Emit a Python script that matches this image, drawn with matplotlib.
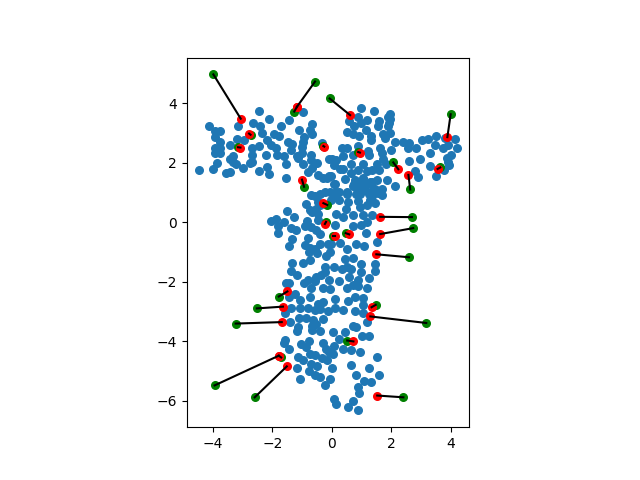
#!/usr/bin/env python3
import matplotlib
matplotlib.use('Agg')
import matplotlib.pyplot as plt

# blue cloud
blue_points = [
    (-2.45, 3.75), (-2.12, 3.48), (-1.44, 3.45), (-0.95, 3.69), (-2.66, 3.32), (-2.41, 3.24),
    (-3.16, 3.22), (-4.14, 3.22), (-1.71, 3.25), (-0.66, 3.29), (-1.10, 3.11), (-0.72, 3.09),
    (-0.66, 2.95), (-3.91, 3.06), (-3.77, 3.05), (-2.35, 3.01), (-1.94, 2.95), (-1.76, 2.91),
    (-3.93, 2.87), (-0.93, 2.88), (-3.77, 2.71), (-3.20, 2.79), (-2.96, 2.78), (-2.18, 2.76),
    (-0.96, 2.71), (-1.48, 2.70), (-1.33, 2.64), (-0.33, 2.66), (-3.43, 2.58), (-2.44, 2.55),
    (-2.67, 2.49), (-2.05, 2.58), (-1.86, 2.51), (-3.93, 2.49), (-3.75, 2.51), (-1.37, 2.42),
    (-0.99, 2.52), (-1.01, 2.34), (-3.92, 2.32), (-3.77, 2.34), (-3.32, 2.24), (-2.67, 2.26),
    (-2.22, 2.25), (-1.84, 2.26), (-1.59, 2.22), (-0.70, 2.27), (-3.43, 2.14), (-2.69, 2.04),
    (-1.13, 2.15), (-1.18, 2.23), (-0.08, 2.14), (-3.87, 1.99), (-3.32, 2.02), (-3.22, 1.95),
    (-2.76, 1.99), (-1.54, 1.97), (-0.96, 1.97), (-0.69, 2.08), (-0.49, 1.99), (-3.00, 1.83),
    (-3.98, 1.79), (-4.45, 1.77), (-2.18, 1.85), (-0.66, 1.83), (-2.45, 1.73), (-2.10, 1.62),
    (-0.80, 1.69), (-3.57, 1.64), (-3.43, 1.68), (-1.54, 1.50), (-0.46, 1.59), (-0.08, 1.56),
    (-0.30, 1.50), (-0.17, 1.48),
    (0.99, 3.85), (1.43, 3.75), (1.96, 3.65), (1.90, 3.54), (1.95, 3.48), (0.87, 3.54),
    (0.59, 3.39), (1.19, 3.43), (1.60, 3.39), (0.97, 3.32), (0.74, 3.23), (1.94, 3.32),
    (1.90, 3.23), (1.54, 3.23), (1.14, 3.11), (0.53, 3.03), (0.72, 2.98), (0.92, 2.89),
    (1.31, 2.90), (1.31, 2.76), (1.71, 2.96), (1.95, 3.01), (1.78, 2.82), (2.14, 2.68),
    (2.41, 2.69), (2.61, 2.67), (2.55, 2.49), (2.83, 2.48), (3.05, 2.78), (3.25, 2.81),
    (3.50, 2.91), (3.80, 2.82), (4.14, 2.81), (3.46, 2.58), (3.73, 2.50), (3.90, 2.59),
    (4.20, 2.51), (3.30, 2.31), (2.00, 2.42), (1.64, 2.48), (0.34, 2.48), (0.50, 2.51),
    (0.89, 2.55), (1.23, 2.39), (1.26, 2.27), (1.68, 2.31), (0.72, 2.25), (0.38, 2.22),
    (1.73, 2.14), (1.82, 1.97), (2.98, 2.14), (2.61, 2.07), (4.02, 2.25), (3.87, 2.16),
    (3.92, 2.03), (3.29, 1.90), (3.93, 1.92), (3.78, 1.75), (3.52, 1.56), (2.80, 1.71),
    (2.89, 1.52), (0.00, 2.11), (0.16, 2.08), (0.66, 1.94), (1.06, 1.97), (1.51, 1.97),
    (1.60, 1.75), (1.34, 1.77), (0.27, 1.80), (0.38, 1.78), (0.07, 1.92), (1.17, 1.71),
    (0.89, 1.75), (0.66, 1.64), (-0.01, 1.55), (0.46, 1.45), (1.06, 1.47), (0.78, 1.41),
    (1.53, 1.43), (1.87, 1.43), (1.30, 1.36), (0.97, 1.28), (0.72, 1.22), (0.07, 1.27),
    (2.14, 1.23), (1.68, 1.11), (1.40, 1.13), (1.11, 1.08), (0.83, 1.17), (0.50, 1.00),
    (0.16, 1.02), (1.57, 0.99), (1.26, 0.94), (0.95, 0.96),
    (0.10, 1.30), (0.75, 1.30), (0.95, 1.24), (1.17, 1.30), (1.34, 1.36),
    (-0.57, 0.87), (-0.41, 0.96), (-0.24, 1.02), (-0.07, 1.02), (0.24, 1.02), (0.50, 0.94),
    (0.10, 0.87), (-0.69, 0.91), (-0.46, 0.68), (-0.01, 0.74), (0.25, 0.74), (0.55, 0.68),
    (0.47, 0.46), (-0.86, 0.61), (-0.74, 0.40), (-0.66, 0.35), (-1.51, 0.38), (0.16, 0.29),
    (0.38, 0.18), (0.70, 0.24), (-0.46, 0.29), (-0.46, 0.07), (0.89, 0.72), (1.17, 0.57),
    (1.45, 0.63), (0.95, 0.52), (1.68, 0.91), (1.34, 0.87), (1.06, 0.24), (1.34, 0.24),
    (1.17, 0.01), (1.00, -0.10), (-1.27, 0.16), (-1.87, 0.12), (-2.04, 0.04), (-1.59, -0.01),
    (-0.83, 0.04), (-1.81, -0.13), (-1.81, -0.36), (-1.36, -0.18), (-1.19, -0.27), (-0.91, -0.13),
    (-0.69, -0.16), (-0.80, -0.52), (-0.52, -0.27), (-0.41, -0.41), (0.10, -0.10), (0.70, -0.13),
    (1.14, -0.35), (-1.34, -0.57), (-1.44, -0.81), (-0.91, -0.77), (-0.41, -0.72), (-0.74, -0.86),
    (-0.78, -1.00), (-0.57, -0.89), (-0.50, -1.03), (-0.12, -0.74), (-0.01, -0.74), (0.27, -0.69),
    (0.52, -0.89), (0.83, -0.74), (1.09, -0.80), (1.51, -0.66), (-0.07, -1.00), (-0.18, -1.14),
    (0.72, -1.19), (0.44, -1.25), (-1.34, -1.36), (-0.97, -1.36), (-0.72, -1.28), (1.00, -1.39),
    (1.45, -1.42), (1.45, -1.64), (-0.24, -1.50), (0.08, -1.52), (0.36, -1.56), (0.50, -1.50),
    (0.66, -1.56), (-1.36, -1.64), (-1.17, -1.76), (-0.21, -1.67), (-0.35, -1.78), (-0.52, -1.86),
    (-0.09, -1.93), (1.00, -1.67), (0.59, -1.86), (0.25, -1.99), (1.26, -1.89), (-0.93, -2.03),
    (-0.80, -1.95), (-0.57, -1.98), (0.89, -1.93), (0.72, -2.12), (0.89, -2.15), (0.50, -2.20),
    (1.19, -2.23), (-1.42, -2.06), (-1.53, -2.06), (-0.69, -2.20), (-0.29, -2.20), (-0.05, -2.26),
    (1.06, 1.19), (1.45, 1.13), (1.28, 0.74), (0.83, 0.96), (-0.41, 0.57), (-0.52, 0.46),
    (-1.25, -2.43), (-1.42, -2.51), (-0.73, -2.50), (0.11, -2.57), (0.56, -2.66), (0.79, -2.50),
    (1.06, -2.54), (-1.08, -2.62), (-0.29, -2.68), (-0.46, -2.76), (-1.36, -2.87), (-1.06, -2.87),
    (-0.80, -2.87), (-0.57, -2.96), (-0.38, -2.92), (-0.12, -3.00), (0.11, -2.87), (0.39, -2.94),
    (0.79, -3.00), (1.04, -3.04), (1.06, -2.79), (-1.57, -3.04), (-1.11, -3.23), (-0.86, -3.23),
    (-0.63, -3.29), (-0.29, -3.27), (-0.52, -3.41), (-0.66, -3.48), (-1.40, -3.36), (-1.14, -3.54),
    (-1.17, -3.65), (-0.65, -3.63), (-0.38, -3.65), (0.05, -3.71), (0.45, -3.71), (0.70, -3.48),
    (0.83, -3.54), (1.19, -3.37), (1.02, -3.82), (1.26, -3.82), (-1.58, -3.95), (-1.61, -4.05),
    (-0.77, -3.98), (0.25, -3.94), (-1.02, -4.11), (-0.85, -4.21), (-1.44, -4.25), (-0.29, -4.08),
    (-0.20, -4.25), (0.08, -4.17), (0.38, -4.25), (0.66, -4.31), (0.96, -4.35), (-0.09, -4.36),
    (0.05, -4.44), (-0.74, -4.44), (-0.57, -4.47), (-1.14, -4.52), (-0.95, -4.64), (-0.33, -4.58),
    (-0.16, -4.62), (1.51, -4.55), (-0.69, -4.77), (-0.50, -4.84), (-1.17, -4.89), (0.01, -4.92),
    (0.65, -4.81), (1.27, -4.92), (-0.77, -5.02), (-0.57, -5.14), (-0.38, -5.20), (-1.07, -5.27),
    (-0.06, -5.29), (0.82, -5.14), (1.60, -5.14), (1.08, -5.33), (1.31, -5.37), (-0.23, -5.48),
    (0.88, -5.55), (0.92, -5.76), (0.08, -5.93), (0.15, -6.10), (0.72, -6.00), (0.55, -6.23),
    (0.89, -6.33),
]

# start (green) and end (red) of each black segment
green_x = [-3.98, -0.56, -1.26, -0.07, -2.73, -3.15, -0.28, -0.93, 4.00, 0.89, 2.07, 2.64, 3.65,
           -0.15, -0.19, 0.03, 0.47, 2.70, 2.74, 2.60, -1.78, -2.52, -3.23, 1.48, 3.18, 0.52,
           -3.94, -1.70, -2.59, 2.41]
green_y = [4.97, 4.73, 3.72, 4.16, 2.94, 2.52, 2.56, 1.19, 3.63, 2.36, 2.01, 1.10, 1.84,
           0.58, 0.01, -0.48, -0.37, 0.17, -0.20, -1.18, -2.50, -2.90, -3.41, -2.78, -3.39, -3.98,
           -5.49, -4.55, -5.89, -5.89]
red_x = [-3.06, -1.17, -1.17, 0.62, -2.78, -3.07, -0.25, -1.00, 3.89, 0.95, 2.24, 2.58, 3.56,
         -0.28, -0.23, 0.11, 0.59, 1.63, 1.63, 1.50, -1.49, -1.64, -1.68, 1.34, 1.30, 0.73,
         -1.78, -1.78, -1.51, 1.53]
red_y = [3.48, 3.88, 3.88, 3.60, 2.98, 2.51, 2.54, 1.43, 2.86, 2.34, 1.78, 1.59, 1.79,
         0.64, -0.06, -0.48, -0.41, 0.18, -0.40, -1.08, -2.33, -2.84, -3.36, -2.86, -3.17, -4.01,
         -4.49, -4.49, -4.85, -5.83]

fig, ax = plt.subplots(figsize=(6.4, 4.8))
ax.scatter([p[0] for p in blue_points], [p[1] for p in blue_points], s=30)
ax.scatter(green_x, green_y, s=30, color='g')
ax.scatter(red_x, red_y, s=30, color='r')
for i in range(len(red_x)):
    ax.plot([green_x[i], red_x[i]], [green_y[i], red_y[i]], color='k')
ax.set_aspect('equal')
plt.savefig('out.png', dpi=100)
